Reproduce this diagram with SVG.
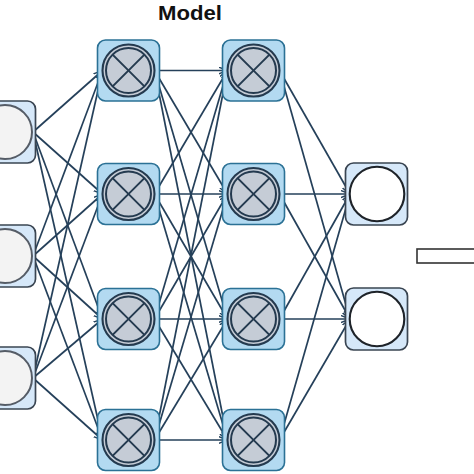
<svg xmlns="http://www.w3.org/2000/svg" xmlns:xlink="http://www.w3.org/1999/xlink" width="474" height="474" viewBox="0 0 474 474">
<style>
.title{font-family:"Liberation Sans",Arial,sans-serif;font-weight:bold;font-size:21px;fill:#111}
.hbox{fill:#b3daf1;stroke:#2b7195;stroke-width:1.6}
.hout{fill:#c5ccd6;stroke:#243a4f;stroke-width:2.1}
.hin{fill:none;stroke:#243a4f;stroke-width:2}
.hx{stroke:#243a4f;stroke-width:2}
.iobox{fill:#d6e8f9;stroke:#3a4552;stroke-width:1.7}
.icirc{fill:#f3f3f3;stroke:#555c66;stroke-width:2}
.ocirc{fill:#ffffff;stroke:#1e2329;stroke-width:2.1}
.conn line{stroke:#25405a;stroke-width:1.7;fill:none;marker-end:url(#arr)}
</style>
<defs>
<marker id="arr" markerUnits="userSpaceOnUse" markerWidth="12" markerHeight="10" refX="9" refY="4" orient="auto">
<path d="M0,0.5 L9,4 L0,7.5" fill="none" stroke="#25405a" stroke-width="1.4"/>
</marker>
<g id="hnode">
<rect class="hbox" x="-31" y="-30.5" width="62" height="61" rx="8"/>
<circle class="hout" r="26"/>
<circle class="hin" r="22.5"/>
<line class="hx" x1="-15.9" y1="-15.9" x2="15.9" y2="15.9"/>
<line class="hx" x1="-15.9" y1="15.9" x2="15.9" y2="-15.9"/>
</g>
<g id="inode">
<rect class="iobox" x="-31.5" y="-31" width="62" height="62" rx="8"/>
<circle class="icirc" r="27"/>
</g>
<g id="onode">
<rect class="iobox" x="-31.5" y="-31" width="62" height="62" rx="8"/>
<circle class="ocirc" r="27.3"/>
</g>
</defs>
<text class="title" x="190" y="19.5" text-anchor="middle" textLength="64" lengthAdjust="spacingAndGlyphs">Model</text>
<g class="conn" id="connectors">
<line x1="33" y1="132" x2="102.5" y2="70.5"/>
<line x1="33" y1="132" x2="102.5" y2="194"/>
<line x1="33" y1="132" x2="102.5" y2="319"/>
<line x1="33" y1="132" x2="102.5" y2="440"/>
<line x1="33" y1="256" x2="102.5" y2="70.5"/>
<line x1="33" y1="256" x2="102.5" y2="194"/>
<line x1="33" y1="256" x2="102.5" y2="319"/>
<line x1="33" y1="256" x2="102.5" y2="440"/>
<line x1="33" y1="378" x2="102.5" y2="70.5"/>
<line x1="33" y1="378" x2="102.5" y2="194"/>
<line x1="33" y1="378" x2="102.5" y2="319"/>
<line x1="33" y1="378" x2="102.5" y2="440"/>
<line x1="154.5" y1="70.5" x2="227.5" y2="70.5"/>
<line x1="154.5" y1="70.5" x2="227.5" y2="194"/>
<line x1="154.5" y1="70.5" x2="227.5" y2="319"/>
<line x1="154.5" y1="70.5" x2="227.5" y2="440"/>
<line x1="154.5" y1="194" x2="227.5" y2="70.5"/>
<line x1="154.5" y1="194" x2="227.5" y2="194"/>
<line x1="154.5" y1="194" x2="227.5" y2="319"/>
<line x1="154.5" y1="194" x2="227.5" y2="440"/>
<line x1="154.5" y1="319" x2="227.5" y2="70.5"/>
<line x1="154.5" y1="319" x2="227.5" y2="194"/>
<line x1="154.5" y1="319" x2="227.5" y2="319"/>
<line x1="154.5" y1="319" x2="227.5" y2="440"/>
<line x1="154.5" y1="440" x2="227.5" y2="70.5"/>
<line x1="154.5" y1="440" x2="227.5" y2="194"/>
<line x1="154.5" y1="440" x2="227.5" y2="319"/>
<line x1="154.5" y1="440" x2="227.5" y2="440"/>
<line x1="279.5" y1="70.5" x2="350" y2="194"/>
<line x1="279.5" y1="70.5" x2="350" y2="319"/>
<line x1="279.5" y1="194" x2="350" y2="194"/>
<line x1="279.5" y1="194" x2="350" y2="319"/>
<line x1="279.5" y1="319" x2="350" y2="194"/>
<line x1="279.5" y1="319" x2="350" y2="319"/>
<line x1="279.5" y1="440" x2="350" y2="194"/>
<line x1="279.5" y1="440" x2="350" y2="319"/>
</g>
<g id="in1"><use xlink:href="#inode" x="5" y="132"/></g>
<g id="in2"><use xlink:href="#inode" x="5" y="256"/></g>
<g id="in3"><use xlink:href="#inode" x="5" y="378"/></g>
<g id="h1_1"><use xlink:href="#hnode" x="128.5" y="70.5"/></g>
<g id="h1_2"><use xlink:href="#hnode" x="128.5" y="194"/></g>
<g id="h1_3"><use xlink:href="#hnode" x="128.5" y="319"/></g>
<g id="h1_4"><use xlink:href="#hnode" x="128.5" y="440"/></g>
<g id="h2_1"><use xlink:href="#hnode" x="253.5" y="70.5"/></g>
<g id="h2_2"><use xlink:href="#hnode" x="253.5" y="194"/></g>
<g id="h2_3"><use xlink:href="#hnode" x="253.5" y="319"/></g>
<g id="h2_4"><use xlink:href="#hnode" x="253.5" y="440"/></g>
<g id="out1"><use xlink:href="#onode" x="377" y="194"/></g>
<g id="out2"><use xlink:href="#onode" x="377" y="319"/></g>
<g id="rightbar"><rect x="417" y="249" width="70" height="14" fill="#ffffff" stroke="#333333" stroke-width="1.6"/></g>
</svg>
